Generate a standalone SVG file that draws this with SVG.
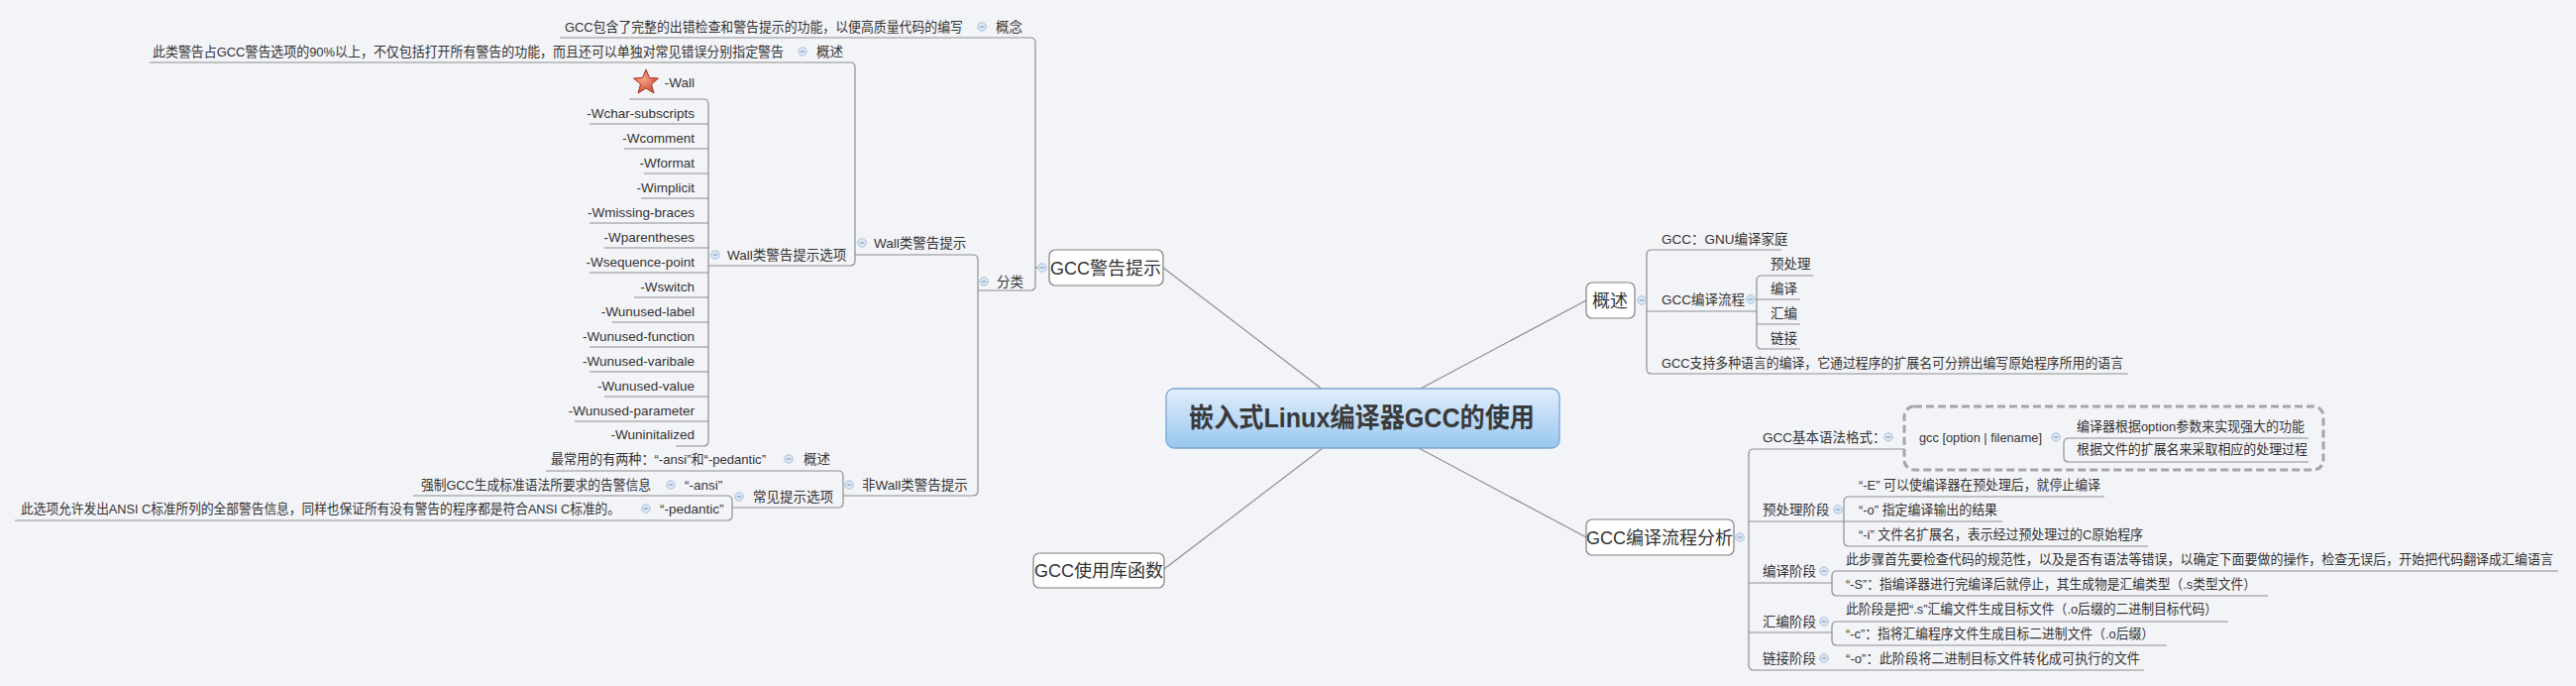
<svg xmlns="http://www.w3.org/2000/svg" width="2600" height="692" viewBox="0 0 2600 692">
<defs>
<linearGradient id="cg" x1="0" y1="0" x2="0" y2="1"><stop offset="0" stop-color="#e2effc"/><stop offset="1" stop-color="#98c6ef"/></linearGradient>
<radialGradient id="sg" cx="0.4" cy="0.4" r="0.7"><stop offset="0" stop-color="#f7a58a"/><stop offset="1" stop-color="#c9412a"/></radialGradient>
<g id="col"><circle r="4.2" fill="#dde8f5" stroke="#a7bfdb" stroke-width="1"/><line x1="-2.2" y1="0" x2="2.2" y2="0" stroke="#6f8fb5" stroke-width="1"/></g>
</defs>
<style>
text{font-family:"Liberation Sans","Noto Sans CJK SC",sans-serif;fill:#333;}
.t{font-size:13.5px;}
.e{text-anchor:end;}
.n{font-size:18px;fill:#333;}
.box{fill:#fff;stroke:#808080;stroke-width:1.2;}
.ln{fill:none;stroke:#8e8e8e;stroke-width:1.2;}
</style>
<rect width="2600" height="692" fill="#f3f4f8"/>

<g id="connectors" class="ln">
<path d="M1335 393 L1174 270"/>
<path d="M1432 393 L1601 303"/>
<path d="M1335 452 L1175 574"/>
<path d="M1432 452 L1601 542"/>
<path d="M565 38 H1040 Q1045 38 1045 43 V288 Q1045 293 1040 293 H987"/>
<path d="M1045 270 H1048"/>
<path d="M863 257 H982 Q987 257 987 262 V495 Q987 500 982 500 H851"/>
<path d="M151 63 H858 Q863 63 863 68 V263 Q863 268 858 268 H715"/>
<path d="M635 100 H710 Q715 100 715 105 V445 Q715 450 710 450 H682"/>
<path d="M595 125 H715 M630 150 H715 M650 175 H715 M647 200 H715 M595 225 H715 M610 250 H715 M595 275 H715 M640 300 H715 M618 325 H715 M595 350 H715 M595 375 H715 M610 400 H715 M580 425 H715"/>
<path d="M551 475 H846 Q851 475 851 480 V507 Q851 512 846 512 H739"/>
<path d="M417 500 H734 Q739 500 739 505 V520 Q739 525 734 525 H15"/>
<path d="M1798 252 H1667 Q1662 252 1662 257 V372 Q1662 377 1667 377 H2148"/>
<path d="M1662 314 H1773"/>
<path d="M1830 278 H1778 Q1773 278 1773 283 V347 Q1773 352 1778 352 H1817"/>
<path d="M1773 302 H1817 M1773 327 H1817"/>
<path d="M1922 453 H1770 Q1765 453 1765 458 V671 Q1765 676 1770 676 H2164"/>
<path d="M1765 526 H1861 M1765 588 H1849 M1765 638 H1849"/>
<path d="M2330 442 H2088 Q2083 442 2083 447 V461 Q2083 466 2088 466 H2330"/>
<path d="M2124 501 H1866 Q1861 501 1861 506 V546 Q1861 551 1866 551 H2168"/>
<path d="M1861 526 H2021"/>
<path d="M2582 576 H1854 Q1849 576 1849 581 V596 Q1849 601 1854 601 H2289"/>
<path d="M2249 627 H1854 Q1849 627 1849 632 V646 Q1849 651 1854 651 H2187"/>
<rect x="1922" y="410" width="423" height="64" rx="10" stroke="#a5a5a5" stroke-width="3" stroke-dasharray="8 4"/>
</g>

<g id="center">
<rect x="1177" y="392" width="397" height="60" rx="8" fill="url(#cg)" stroke="#7aa6d2" stroke-width="1.3"/>
<text x="1200" y="431" textLength="349" lengthAdjust="spacingAndGlyphs" font-size="27" font-weight="bold" style="fill:#3a3a3a">嵌入式Linux编译器GCC的使用</text>
</g>

<g id="n-warn">
<rect class="box" x="1059" y="252" width="115" height="36" rx="6"/>
<text class="n" x="1116" y="277" text-anchor="middle">GCC警告提示</text>
<use href="#col" x="1052" y="270"/>
</g>
<g id="n-overview">
<rect class="box" x="1601" y="285" width="49" height="36" rx="6"/>
<text class="n" x="1625" y="310" text-anchor="middle">概述</text>
<use href="#col" x="1657" y="303"/>
</g>
<g id="n-lib">
<rect class="box" x="1043" y="558" width="132" height="35" rx="6"/>
<text class="n" x="1109" y="582" text-anchor="middle">GCC使用库函数</text>
</g>
<g id="n-flow">
<rect class="box" x="1601" y="524" width="149" height="36" rx="6"/>
<text class="n" x="1675" y="549" text-anchor="middle">GCC编译流程分析</text>
<use href="#col" x="1756" y="542"/>
</g>

<g id="left-leaves">
<g id="concept"><text class="t" x="570" y="32" textLength="402" lengthAdjust="spacingAndGlyphs">GCC包含了完整的出错检查和警告提示的功能，以便高质量代码的编写</text><use href="#col" x="991" y="27"/><text class="t" x="1005" y="32">概念</text></g>
<g id="category"><use href="#col" x="993" y="284"/><text class="t" x="1006" y="289">分类</text></g>
<g id="wall"><use href="#col" x="870" y="245"/><text class="t" x="882" y="250">Wall类警告提示</text></g>
<g id="wall-ov"><text class="t" x="154" y="57" textLength="637" lengthAdjust="spacingAndGlyphs">此类警告占GCC警告选项的90%以上，不仅包括打开所有警告的功能，而且还可以单独对常见错误分别指定警告</text><use href="#col" x="810" y="52"/><text class="t" x="824" y="57">概述</text></g>
<g id="wall-opts"><use href="#col" x="722" y="257"/><text class="t" x="734" y="262">Wall类警告提示选项</text></g>
<g id="wall-items">
<polygon points="652,70 655.5,78.5 664.5,79 657.5,85 660,94 652,89 644,94 646.5,85 639.5,79 648.5,78.5" fill="url(#sg)" stroke="#a33a26" stroke-width="1"/>
<text class="t e" x="701" y="88">-Wall</text>
<text class="t e" x="701" y="119">-Wchar-subscripts</text>
<text class="t e" x="701" y="144">-Wcomment</text>
<text class="t e" x="701" y="169">-Wformat</text>
<text class="t e" x="701" y="194">-Wimplicit</text>
<text class="t e" x="701" y="219">-Wmissing-braces</text>
<text class="t e" x="701" y="244">-Wparentheses</text>
<text class="t e" x="701" y="269">-Wsequence-point</text>
<text class="t e" x="701" y="294">-Wswitch</text>
<text class="t e" x="701" y="319">-Wunused-label</text>
<text class="t e" x="701" y="344">-Wunused-function</text>
<text class="t e" x="701" y="369">-Wunused-varibale</text>
<text class="t e" x="701" y="394">-Wunused-value</text>
<text class="t e" x="701" y="419">-Wunused-parameter</text>
<text class="t e" x="701" y="443">-Wuninitalized</text>
</g>
<g id="nonwall"><use href="#col" x="857" y="489"/><text class="t" x="870" y="494">非Wall类警告提示</text></g>
<g id="nonwall-ov"><text class="t" x="556" y="468" textLength="217" lengthAdjust="spacingAndGlyphs">最常用的有两种：“-ansi”和“-pedantic”</text><use href="#col" x="796" y="463"/><text class="t" x="811" y="468">概述</text></g>
<g id="common"><use href="#col" x="746" y="501"/><text class="t" x="760" y="506">常见提示选项</text></g>
<g id="ansi"><text class="t" x="425" y="494" textLength="232" lengthAdjust="spacingAndGlyphs">强制GCC生成标准语法所要求的告警信息</text><use href="#col" x="677" y="489"/><text class="t" x="691" y="494">“-ansi”</text></g>
<g id="pedantic"><text class="t" x="21" y="518" textLength="605" lengthAdjust="spacingAndGlyphs">此选项允许发出ANSI C标准所列的全部警告信息，同样也保证所有没有警告的程序都是符合ANSI C标准的。</text><use href="#col" x="652" y="513"/><text class="t" x="666" y="518">“-pedantic”</text></g>
</g>

<g id="right-leaves">
<text class="t" x="1677" y="246">GCC：GNU编译家庭</text>
<g id="flow"><text class="t" x="1677" y="307">GCC编译流程</text><use href="#col" x="1767" y="302"/></g>
<text class="t" x="1787" y="271">预处理</text>
<text class="t" x="1787" y="296">编译</text>
<text class="t" x="1787" y="321">汇编</text>
<text class="t" x="1787" y="346">链接</text>
<text class="t" x="1677" y="371" textLength="466" lengthAdjust="spacingAndGlyphs">GCC支持多种语言的编译，它通过程序的扩展名可分辨出编写原始程序所用的语言</text>
<g id="syntax"><text class="t" x="1779" y="446">GCC基本语法格式：</text><use href="#col" x="1906" y="441"/></g>
<g id="gcc-fmt"><text class="t" x="1937" y="446" textLength="124" lengthAdjust="spacingAndGlyphs">gcc [option | filename]</text><use href="#col" x="2075" y="441"/></g>
<text class="t" x="2096" y="435" textLength="230" lengthAdjust="spacingAndGlyphs">编译器根据option参数来实现强大的功能</text>
<text class="t" x="2096" y="458" textLength="233" lengthAdjust="spacingAndGlyphs">根据文件的扩展名来采取相应的处理过程</text>
<g id="pre"><text class="t" x="1779" y="519">预处理阶段</text><use href="#col" x="1855" y="514"/></g>
<text class="t" x="1876" y="494" textLength="244" lengthAdjust="spacingAndGlyphs">“-E” 可以使编译器在预处理后，就停止编译</text>
<text class="t" x="1876" y="519" textLength="140" lengthAdjust="spacingAndGlyphs">“-o” 指定编译输出的结果</text>
<text class="t" x="1876" y="544" textLength="287" lengthAdjust="spacingAndGlyphs">“-i” 文件名扩展名，表示经过预处理过的C原始程序</text>
<g id="comp"><text class="t" x="1779" y="581">编译阶段</text><use href="#col" x="1841" y="576"/></g>
<text class="t" x="1863" y="569" textLength="714" lengthAdjust="spacingAndGlyphs">此步骤首先要检查代码的规范性，以及是否有语法等错误，以确定下面要做的操作，检查无误后，开始把代码翻译成汇编语言</text>
<text class="t" x="1863" y="594" textLength="414" lengthAdjust="spacingAndGlyphs">“-S”：指编译器进行完编译后就停止，其生成物是汇编类型（.s类型文件）</text>
<g id="asm"><text class="t" x="1779" y="632">汇编阶段</text><use href="#col" x="1841" y="627"/></g>
<text class="t" x="1863" y="619" textLength="375" lengthAdjust="spacingAndGlyphs">此阶段是把“.s”汇编文件生成目标文件（.o后缀的二进制目标代码）</text>
<text class="t" x="1863" y="644" textLength="311" lengthAdjust="spacingAndGlyphs">“-c”：指将汇编程序文件生成目标二进制文件（.o后缀）</text>
<g id="link"><text class="t" x="1779" y="669">链接阶段</text><use href="#col" x="1841" y="664"/></g>
<text class="t" x="1863" y="669" textLength="297" lengthAdjust="spacingAndGlyphs">“-o”：此阶段将二进制目标文件转化成可执行的文件</text>
</g>
</svg>
